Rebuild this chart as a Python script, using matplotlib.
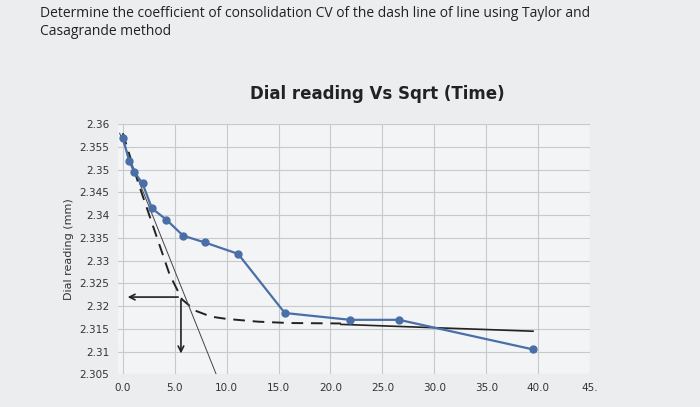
import matplotlib.pyplot as plt
import numpy as np

x_pts = [0.0, 0.6, 1.1, 1.9, 2.8, 4.2, 5.8, 7.9, 11.1, 15.6, 21.9, 26.6, 39.5]
y_pts = [2.357, 2.352, 2.3495, 2.347, 2.3415, 2.339, 2.3355, 2.334, 2.3315, 2.3185, 2.317, 2.317, 2.3105]
dash_x = [0.0, 1.5, 3.0, 4.5, 5.7, 7.0, 8.5, 10.0, 13.0, 16.0, 21.0]
dash_y = [2.358, 2.347, 2.337, 2.327, 2.3215, 2.319, 2.3177, 2.3172, 2.3166, 2.3163, 2.3162]
tan_x = [-0.3, 9.0]
tan_y = [2.358, 2.305]
hline_x = [21.0, 39.5]
hline_y = [2.316, 2.3145]
arrow_pt = (5.6, 2.322)

fig = plt.figure(figsize=(7, 4.07), dpi=100)
fig.patch.set_facecolor('#ecedef')
fig.text(0.057, 0.905, "Determine the coefficient of consolidation CV of the dash line of line using Taylor and\nCasagrande method",
         fontsize=10, family='Open Sans', va='bottom', color='#222')
ax = fig.add_axes([0.168, 0.08, 0.675, 0.615])
ax.set_facecolor('#f3f4f6')
ax.set_xlim(-0.5, 45)
ax.set_ylim(2.305, 2.36)
ax.set_xticks(np.arange(0, 46, 5))
ax.set_xticklabels(['0.0','5.0','10.0','15.0','20.0','25.0','30.0','35.0','40.0','45.'])
ax.set_yticks(np.arange(2.305, 2.3601, 0.005))
ax.set_yticklabels(['2.305','2.31','2.315','2.32','2.325','2.33','2.335','2.34','2.345','2.35','2.355','2.36'])
ax.grid(True, color='#c8c9cc', lw=0.8)
for s in ax.spines.values():
    s.set_visible(False)
ax.tick_params(length=0, labelsize=7.5, colors='#333', pad=6)
ax.set_ylabel('Dial reading (mm)', fontsize=8, color='#333')
ax.set_title('Dial reading Vs Sqrt (Time)', fontsize=12, fontweight='bold', color='#222', pad=18, x=0.55)

ax.plot(x_pts, y_pts, '-o', color='#4a6fa8', lw=1.6, ms=5, zorder=3)
ax.plot(dash_x, dash_y, '--', color='#222', lw=1.4, dashes=(6, 4))
ax.plot(tan_x, tan_y, '-', color='#444', lw=0.7)
ax.plot(hline_x, hline_y, '-', color='#222', lw=1.2)
ax.annotate('', xy=(0.2, arrow_pt[1]), xytext=arrow_pt, arrowprops=dict(arrowstyle='->', color='#222', lw=1.2))
ax.annotate('', xy=(arrow_pt[0], 2.309), xytext=arrow_pt, arrowprops=dict(arrowstyle='->', color='#222', lw=1.2))
fig.savefig('out.png', dpi=100, facecolor=fig.get_facecolor())
